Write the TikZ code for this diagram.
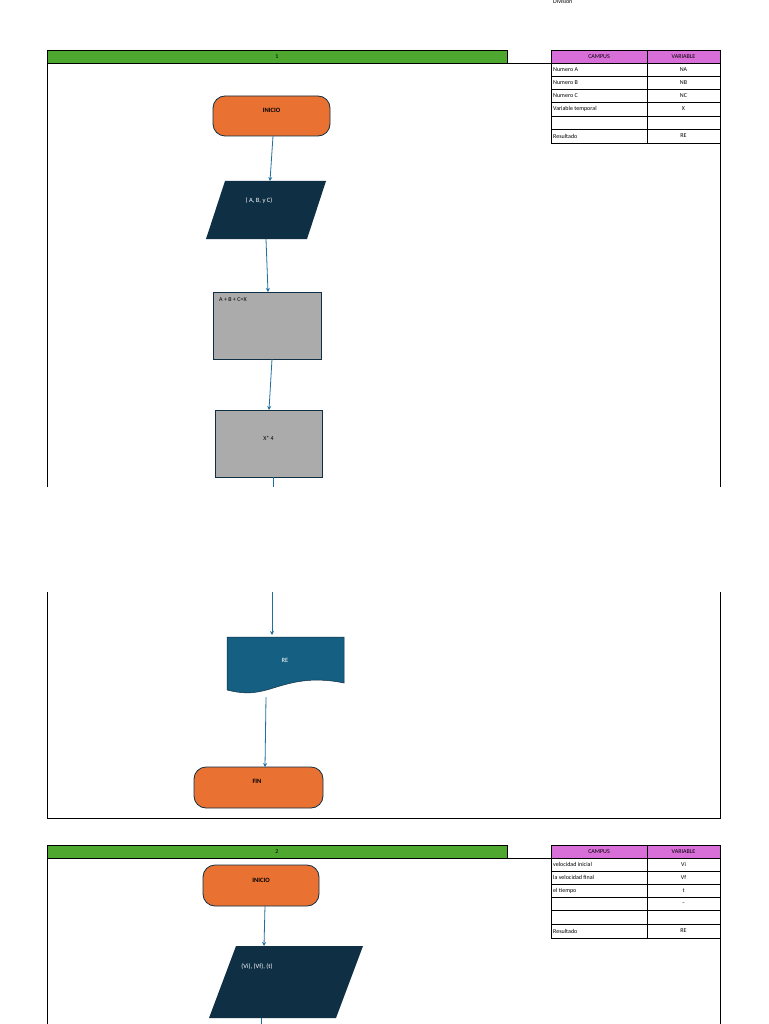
\documentclass[tikz,border=0pt]{standalone}
\usepackage{fontspec}
\setmainfont{Carlito}
\usetikzlibrary{arrows.meta}
\definecolor{grn}{HTML}{4EA72E}
\definecolor{pnk}{HTML}{D86ED8}
\definecolor{org}{HTML}{E97132}
\definecolor{dkb}{HTML}{0E2F44}
\definecolor{gry}{HTML}{ABABAB}
\definecolor{blu}{HTML}{156082}
\definecolor{arr}{HTML}{1F6E9C}
\tikzset{
  frame/.style={draw=black, line width=0.6pt},
  bar/.style={fill=grn, draw=black, line width=0.4pt},
  term/.style={fill=org, draw=dkb, line width=0.8pt, rounded corners=12pt},
  proc/.style={fill=gry, draw=dkb, line width=0.8pt},
  conn/.style={draw=arr, line width=0.8pt, -{Stealth[length=4pt,width=4pt]}},
  connn/.style={draw=arr, line width=0.8pt},
  tx/.style={font=\fontsize{6}{7}\selectfont, inner sep=1pt},
  btx/.style={font=\fontsize{6.5}{7}\selectfont\bfseries},
  wtx/.style={font=\fontsize{6.5}{7}\selectfont, text=white},
}
\begin{document}
\begin{tikzpicture}[x=1pt,y=-1pt]
\useasboundingbox (0,0) rectangle (768,1024);
\fill[white] (0,0) rectangle (768,1024);
% ---- section 1 frame
\draw[frame] (47,487) -- (47,50);
\draw[frame] (507,63) -- (551,63);
\draw[frame] (720,143) -- (720,487);
\draw[frame] (47,592) -- (47,818) -- (720,818) -- (720,592);
\draw[bar] (47,50) rectangle (507,63);
\node[tx] (t1) at (277,56.5) {1};
% table 1
\fill[pnk] (551,50) rectangle (720,63);
\foreach \y in {50,63,76,89,102,116,129,143} \draw[line width=0.4pt] (551,\y) -- (720,\y);
\draw[line width=0.4pt] (551,50) -- (551,143) (647,50) -- (647,143) (720,50) -- (720,143);
\node[tx] (h1) at (599,56.5) {CAMPUS};
\node[tx] (h2) at (683.5,56.5) {VARIABLE};
\foreach \a/\b/\y in {Numero A/NA/69.5, Numero B/NB/82.5, Numero C/NC/95.5, Variable temporal/X/109, Resultado/RE/136}{
  \node[tx, anchor=west] at (552,\y) {\a};
  \node[tx] at (683.5,\y) {\b};
}
% nodes
\draw[term] (213,96) rectangle (330,136);
\node[btx] (inicio) at (271.5,110) {INICIO};
\coordinate (inicioB) at (273,136);
\fill[dkb] (225,181) -- (326,181) -- (307,239) -- (206,239) -- cycle;
\node[wtx] (in1) at (259,201) {( A, B, y C)};
\coordinate (in1T) at (270,181); \coordinate (in1B) at (266,239);
\draw[proc] (213,292) rectangle (321,359);
\node[tx, anchor=north west] (p1) at (218,296) {A + B + C=X};
\coordinate (p1T) at (268,292); \coordinate (p1B) at (272,359);
\draw[proc] (215,410) rectangle (322,477);
\node[tx] (p2) at (268.5,438) {X* 4};
\coordinate (p2T) at (269,410); \coordinate (p2B) at (273,477);
\coordinate (cut1) at (273,487); \coordinate (cut2) at (272,592);
\fill[blu, draw=dkb, line width=0.5pt] (227,637) -- (344,637) -- (344,683)
  .. controls (310,676) and (290,683) .. (270,689) .. controls (250,695) and (240,693) .. (227,690) -- cycle;
\node[wtx] (re) at (285,660) {RE};
\coordinate (reT) at (272,635); \coordinate (reB) at (266,697);
\draw[term] (194,767) rectangle (323,808);
\node[btx] (fin) at (257,781) {FIN};
\coordinate (finT) at (265,767);
\draw[conn] (inicioB) -- (in1T);
\draw[conn] (in1B) -- (p1T);
\draw[conn] (p1B) -- (p2T);
\draw[connn] (p2B) -- (cut1);
\draw[conn] (cut2) -- (reT);
\draw[conn] (reB) -- (finT);
% ---- section 2
\draw[frame] (47,1024) -- (47,845);
\draw[frame] (507,858) -- (551,858);
\draw[frame] (720,938) -- (720,1024);
\draw[bar] (47,845) rectangle (507,858);
\node[tx] (t2) at (277,851.5) {2};
\fill[pnk] (551,845) rectangle (720,858);
\foreach \y in {845,858,871,884,897,910,924,938} \draw[line width=0.4pt] (551,\y) -- (720,\y);
\draw[line width=0.4pt] (551,845) -- (551,938) (647,845) -- (647,938) (720,845) -- (720,938);
\node[tx] (h3) at (599,851.5) {CAMPUS};
\node[tx] (h4) at (683.5,851.5) {VARIABLE};
\foreach \a/\b/\y in { velocidad inicial/Vi/864.5, la velocidad final/Vf/877.5, el tiempo/t/890.5, /--/903.5, División///917, Resultado/RE/931}{
  \node[tx, anchor=west] at (552,\y) {\a};
  \node[tx] at (683.5,\y) {\b};
}
\draw[term] (203,865) rectangle (319,906);
\node[btx] (inicio2) at (261,880) {INICIO};
\coordinate (i2B) at (265,906);
\fill[dkb] (236,946) -- (363,946) -- (336,1018) -- (209,1018) -- cycle;
\node[wtx] (in2) at (257,967) {(Vi), (Vf), (t)};
\coordinate (in2T) at (264,946); \coordinate (in2B) at (261,1018);
\coordinate (end2) at (261,1024);
\draw[conn] (i2B) -- (in2T);
\draw[connn] (in2B) -- (end2);
\end{tikzpicture}
\end{document}
